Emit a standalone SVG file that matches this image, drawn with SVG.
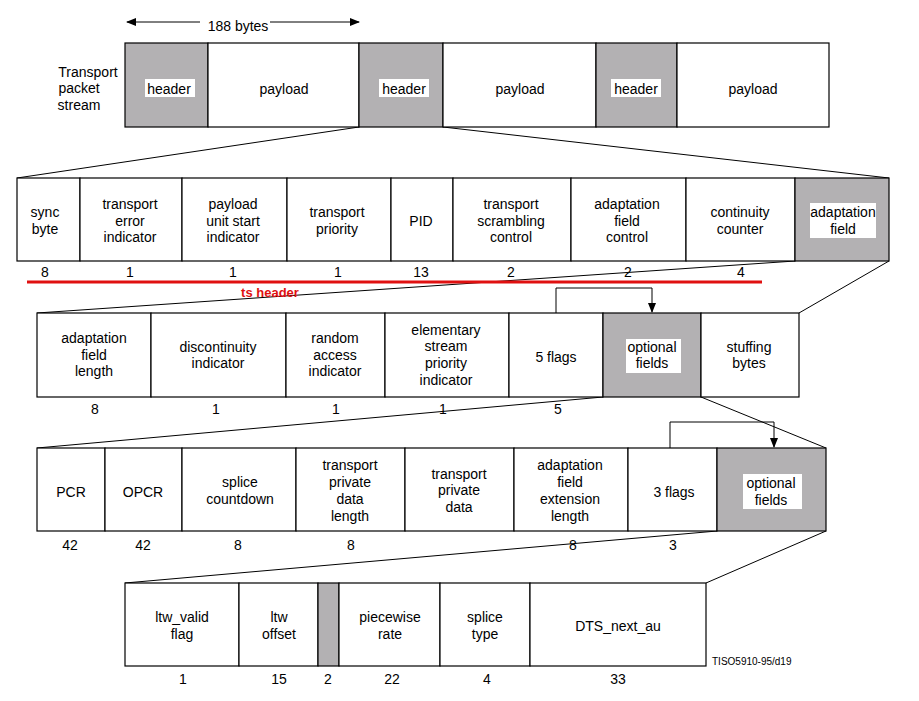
<svg xmlns="http://www.w3.org/2000/svg" width="919" height="701" viewBox="0 0 919 701">
<style>
text{font-family:"Liberation Sans",Arial,sans-serif;font-size:14px;fill:#000;text-anchor:middle}
.c{fill:#fff;stroke:#000;stroke-width:1.2}
.g{fill:#b3b1b3;stroke:#000;stroke-width:1.2}
.w{fill:#fff}
.l{stroke:#000;stroke-width:1;fill:none}
</style>
<defs><marker id="a" markerWidth="10" markerHeight="8" refX="9" refY="4" orient="auto" markerUnits="userSpaceOnUse"><path d="M0,0L10,4L0,8z"/></marker></defs>
<rect width="919" height="701" fill="#fff"/>
<g id="connectors">
<line class="l" x1="135" y1="22" x2="127" y2="22" marker-end="url(#a)"/>
<line class="l" x1="200" y1="22" x2="135" y2="22"/>
<line class="l" x1="270" y1="22" x2="359" y2="22" marker-end="url(#a)"/>
<line class="l" x1="359" y1="127" x2="17" y2="178"/>
<line class="l" x1="443" y1="127" x2="889" y2="178"/>
<line class="l" x1="795" y1="261" x2="37" y2="313"/>
<line class="l" x1="889" y1="261" x2="799" y2="313"/>
<polyline class="l" points="556,313 556,288 652,288 652,312" marker-end="url(#a)"/>
<line class="l" x1="603" y1="397" x2="37" y2="448"/>
<line class="l" x1="701" y1="397" x2="826" y2="448"/>
<polyline class="l" points="670,448 670,422 774,422 774,447" marker-end="url(#a)"/>
<line class="l" x1="717" y1="531" x2="125" y2="583"/>
<line class="l" x1="826" y1="531" x2="706" y2="583"/>
<line x1="27" y1="282" x2="762" y2="282" stroke="#e01010" stroke-width="3"/>
</g>
<text x="238" y="31">188 bytes</text>
<text x="270" y="297" style="fill:#e01010;font-weight:bold;font-size:13px">ts header</text>
<g id="row0">
<text x="88" y="77">Transport</text><text x="79" y="93">packet</text><text x="79" y="110">stream</text>
<rect class="g" x="125" y="43" width="83" height="84"/><rect class="w" x="145" y="79" width="50" height="18"/><text x="169" y="94">header</text>
<rect class="c" x="208" y="43" width="151" height="84"/><text x="284" y="94">payload</text>
<rect class="g" x="359" y="43" width="84" height="84"/><rect class="w" x="379" y="79" width="50" height="18"/><text x="404" y="94">header</text>
<rect class="c" x="443" y="43" width="153" height="84"/><text x="520" y="94">payload</text>
<rect class="g" x="596" y="43" width="81" height="84"/><rect class="w" x="611" y="79" width="50" height="18"/><text x="636" y="94">header</text>
<rect class="c" x="677" y="43" width="152" height="84"/><text x="753" y="94">payload</text>
</g>
<g id="row1">
<rect class="c" x="17" y="178" width="63" height="83"/><text x="45" y="217">sync</text><text x="45" y="234">byte</text>
<rect class="c" x="80" y="178" width="102" height="83"/><text x="130" y="209">transport</text><text x="130" y="226">error</text><text x="130" y="242">indicator</text>
<rect class="c" x="182" y="178" width="105" height="83"/><text x="233" y="209">payload</text><text x="233" y="226">unit start</text><text x="233" y="242">indicator</text>
<rect class="c" x="287" y="178" width="104" height="83"/><text x="337" y="217">transport</text><text x="337" y="234">priority</text>
<rect class="c" x="391" y="178" width="62" height="83"/><text x="421" y="226">PID</text>
<rect class="c" x="453" y="178" width="118" height="83"/><text x="511" y="209">transport</text><text x="511" y="226">scrambling</text><text x="511" y="242">control</text>
<rect class="c" x="571" y="178" width="115" height="83"/><text x="627" y="209">adaptation</text><text x="627" y="226">field</text><text x="627" y="242">control</text>
<rect class="c" x="686" y="178" width="109" height="83"/><text x="740" y="217">continuity</text><text x="740" y="234">counter</text>
<rect class="g" x="795" y="178" width="94" height="83"/><rect class="w" x="810" y="203" width="66" height="35"/><text x="843" y="217">adaptation</text><text x="843" y="234">field</text>
<text x="45" y="277">8</text><text x="130" y="277">1</text><text x="233" y="277">1</text><text x="338" y="277">1</text><text x="421" y="277">13</text><text x="511" y="277">2</text><text x="628" y="277">2</text><text x="741" y="277">4</text>
</g>
<g id="row2">
<rect class="c" x="37" y="313" width="114" height="84"/><text x="94" y="343">adaptation</text><text x="94" y="360">field</text><text x="94" y="376">length</text>
<rect class="c" x="151" y="313" width="135" height="84"/><text x="218" y="352">discontinuity</text><text x="218" y="368">indicator</text>
<rect class="c" x="286" y="313" width="99" height="84"/><text x="335" y="343">random</text><text x="335" y="360">access</text><text x="335" y="376">indicator</text>
<rect class="c" x="385" y="313" width="124" height="84"/><text x="446" y="335">elementary</text><text x="446" y="351">stream</text><text x="446" y="368">priority</text><text x="446" y="385">indicator</text>
<rect class="c" x="509" y="313" width="94" height="84"/><text x="556" y="362">5 flags</text>
<rect class="g" x="603" y="313" width="98" height="84"/><rect class="w" x="626" y="339" width="55" height="34"/><text x="652" y="352">optional</text><text x="652" y="368">fields</text>
<rect class="c" x="701" y="313" width="98" height="84"/><text x="749" y="352">stuffing</text><text x="749" y="368">bytes</text>
<text x="95" y="414">8</text><text x="216" y="414">1</text><text x="336" y="414">1</text><text x="443" y="414">1</text><text x="558" y="414">5</text>
</g>
<g id="row3">
<rect class="c" x="37" y="448" width="68" height="83"/><text x="71" y="497">PCR</text>
<rect class="c" x="105" y="448" width="77" height="83"/><text x="143" y="497">OPCR</text>
<rect class="c" x="182" y="448" width="114" height="83"/><text x="240" y="487">splice</text><text x="240" y="504">countdown</text>
<rect class="c" x="296" y="448" width="109" height="83"/><text x="350" y="470">transport</text><text x="350" y="487">private</text><text x="350" y="504">data</text><text x="350" y="521">length</text>
<rect class="c" x="405" y="448" width="109" height="83"/><text x="459" y="479">transport</text><text x="459" y="495">private</text><text x="459" y="512">data</text>
<rect class="c" x="514" y="448" width="114" height="83"/><text x="570" y="470">adaptation</text><text x="570" y="487">field</text><text x="570" y="504">extension</text><text x="570" y="521">length</text>
<rect class="c" x="628" y="448" width="89" height="83"/><text x="674" y="497">3 flags</text>
<rect class="g" x="717" y="448" width="109" height="83"/><rect class="w" x="743" y="474" width="59" height="35"/><text x="771" y="488">optional</text><text x="771" y="505">fields</text>
<text x="70" y="550">42</text><text x="143" y="550">42</text><text x="238" y="550">8</text><text x="351" y="550">8</text><text x="573" y="550">8</text><text x="673" y="550">3</text>
</g>
<g id="row4">
<rect class="c" x="125" y="583" width="114" height="83"/><text x="182" y="622">ltw_valid</text><text x="182" y="639">flag</text>
<rect class="c" x="239" y="583" width="79" height="83"/><text x="279" y="622">ltw</text><text x="279" y="639">offset</text>
<rect class="g" x="318" y="583" width="21" height="83"/>
<rect class="c" x="339" y="583" width="101" height="83"/><text x="390" y="622">piecewise</text><text x="390" y="639">rate</text>
<rect class="c" x="440" y="583" width="90" height="83"/><text x="485" y="622">splice</text><text x="485" y="639">type</text>
<rect class="c" x="530" y="583" width="176" height="83"/><text x="618" y="631">DTS_next_au</text>
<text x="183" y="684">1</text><text x="279" y="684">15</text><text x="328" y="684">2</text><text x="392" y="684">22</text><text x="487" y="684">4</text><text x="618" y="684">33</text>
<text x="712" y="665" style="text-anchor:start;font-size:10px">TISO5910-95/d19</text>
</g>
</svg>
